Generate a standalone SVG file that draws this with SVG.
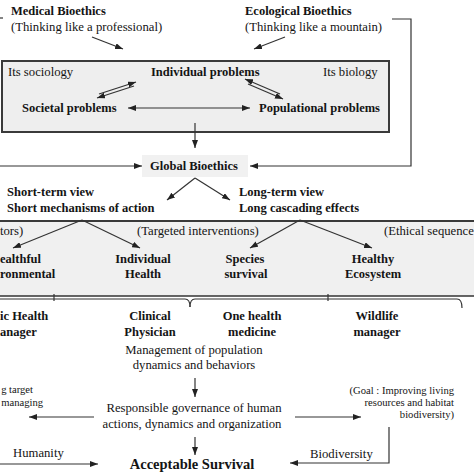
<svg xmlns="http://www.w3.org/2000/svg" width="474" height="474" viewBox="0 0 474 474">
<defs>
<marker id="ah" markerWidth="8" markerHeight="6" refX="8" refY="3" orient="auto-start-reverse" markerUnits="userSpaceOnUse">
<path d="M0,0 L8,3 L0,6 z" fill="#222"/>
</marker>
</defs>
<style>
text{font-family:"Liberation Serif","Times New Roman",serif;fill:#141414}
.b{font-weight:bold;font-size:12.5px}
.r{font-size:12.7px}
.s{font-size:10.6px}
.m{text-anchor:middle}
.e{text-anchor:end}
.ln{stroke:#333;stroke-width:1.2;fill:none}
.ar{stroke:#333;stroke-width:1.2;fill:none;marker-end:url(#ah)}
.ar2{stroke:#333;stroke-width:1.2;fill:none;marker-end:url(#ah);marker-start:url(#ah)}
</style>
<rect width="474" height="474" fill="#fff"/>

<g id="medical-bioethics">
<text class="b" x="11" y="15">Medical Bioethics</text>
<text class="r" x="11" y="31">(Thinking like a professional)</text>
</g>
<g id="ecological-bioethics">
<text class="b" x="245" y="15">Ecological Bioethics</text>
<text class="r" x="245" y="31">(Thinking like a mountain)</text>
</g>

<g id="problems-box">
<rect x="2" y="61" width="387" height="71" fill="#eeeeee" stroke="#3a3a3a" stroke-width="2"/>
<text class="r" x="8" y="76">Its sociology</text>
<text class="r" x="323" y="76">Its biology</text>
</g>
<g id="individual-problems"><text class="b" x="151" y="76">Individual problems</text></g>
<g id="societal-problems"><text class="b" x="22" y="112">Societal problems</text></g>
<g id="populational-problems"><text class="b" x="259" y="112">Populational problems</text></g>

<g id="global-bioethics">
<rect x="142" y="155" width="106" height="22" fill="#f1f1f1"/>
<text class="b" x="150" y="170">Global Bioethics</text>
</g>

<g id="short-term">
<text class="b" x="7" y="196">Short-term view</text>
<text class="b" x="7" y="212">Short mechanisms of action</text>
</g>
<g id="long-term">
<text class="b" x="239" y="196">Long-term view</text>
<text class="b" x="239" y="212">Long cascading effects</text>
</g>

<g id="outcomes-band">
<rect x="0" y="221" width="474" height="75" fill="#f0f0f0"/>
<line x1="0" y1="221" x2="474" y2="221" stroke="#3a3a3a" stroke-width="2"/>
<line x1="0" y1="296" x2="474" y2="296" stroke="#333" stroke-width="1.5"/>
<text class="r" x="0" y="235">tors)</text>
<text class="r" x="137" y="235">(Targeted interventions)</text>
<text class="r" x="384" y="235">(Ethical sequence</text>
</g>
<g id="healthful-environmental">
<text class="b" x="0" y="263">ealthful</text>
<text class="b" x="0" y="278">ronmental</text>
</g>
<g id="individual-health">
<text class="b m" x="143" y="263">Individual</text>
<text class="b m" x="143" y="278">Health</text>
</g>
<g id="species-survival">
<text class="b m" x="245" y="263">Species</text>
<text class="b m" x="246" y="278">survival</text>
</g>
<g id="healthy-ecosystem">
<text class="b m" x="373" y="263">Healthy</text>
<text class="b m" x="373" y="278">Ecosystem</text>
</g>

<g id="braces">
<path class="ln" d="M0 299 H185 Q190 299 190 307"/>
<path class="ln" d="M190 307 Q190 299 195 299 H457 Q462 299 462 308"/>
<line class="ln" x1="54" y1="294" x2="54" y2="301"/>
<line class="ln" x1="328" y1="294" x2="328" y2="301"/>
</g>

<g id="public-health-manager">
<text class="b" x="0" y="320">ic Health</text>
<text class="b" x="0" y="336">anager</text>
</g>
<g id="clinical-physician">
<text class="b m" x="150" y="320">Clinical</text>
<text class="b m" x="150" y="336">Physician</text>
</g>
<g id="one-health-medicine">
<text class="b m" x="252" y="320">One health</text>
<text class="b m" x="252" y="336">medicine</text>
</g>
<g id="wildlife-manager">
<text class="b m" x="377" y="320">Wildlife</text>
<text class="b m" x="377" y="336">manager</text>
</g>

<g id="management">
<text class="r m" x="194" y="354">Management of population</text>
<text class="r m" x="194" y="369">dynamics and behaviors</text>
</g>
<g id="left-goal">
<text class="s e" x="33" y="393">g target</text>
<text class="s e" x="43" y="406">managing</text>
</g>
<g id="right-goal">
<text class="s e" x="454" y="394">(Goal : Improving living</text>
<text class="s e" x="454" y="406">resources and habitat</text>
<text class="s e" x="454" y="418">biodiversity)</text>
</g>
<g id="governance">
<text class="r m" x="194" y="412">Responsible governance of human</text>
<text class="r m" x="192" y="428">actions, dynamics and organization</text>
</g>
<g id="acceptable-survival">
<text x="192" y="469" class="m" style="font-weight:bold;font-size:14.5px">Acceptable Survival</text>
</g>

<g id="connectors">
<line class="ln" x1="0" y1="18" x2="3" y2="18"/>
<line class="ar" x1="92" y1="37" x2="123" y2="49"/>
<line class="ar" x1="285" y1="37" x2="254" y2="49"/>
<line class="ar" x1="99" y1="94" x2="136" y2="82"/>
<line class="ar" x1="134" y1="86" x2="97" y2="98"/>
<line class="ar" x1="280" y1="94" x2="245" y2="79"/>
<line class="ar" x1="248" y1="84" x2="283" y2="99"/>
<line class="ar2" x1="128" y1="108" x2="250" y2="108"/>
<line class="ar" x1="195" y1="123" x2="195" y2="148"/>
<line class="ar" x1="0" y1="166" x2="142" y2="166"/>
<path class="ar" d="M392 19 H411 V166 H250"/>
<line class="ar" x1="195" y1="178" x2="167" y2="200"/>
<line class="ar" x1="195" y1="178" x2="230" y2="200"/>
<line class="ar" x1="82" y1="220" x2="13" y2="248"/>
<line class="ar" x1="82" y1="220" x2="140" y2="248"/>
<line class="ar" x1="300" y1="220" x2="250" y2="248"/>
<line class="ar" x1="300" y1="220" x2="372" y2="248"/>
<line class="ar" x1="195" y1="378" x2="195" y2="397"/>
<line class="ar" x1="195" y1="437" x2="195" y2="455"/>
<line class="ar" x1="94" y1="417" x2="29" y2="417"/>
<line class="ar" x1="295" y1="417" x2="361" y2="417"/>
<line class="ar" x1="0" y1="464" x2="98" y2="464"/>
<path class="ar" d="M389 427 V463 H290"/>
<text class="r" x="13" y="457">Humanity</text>
<text class="r" x="310" y="458">Biodiversity</text>
</g>
</svg>
